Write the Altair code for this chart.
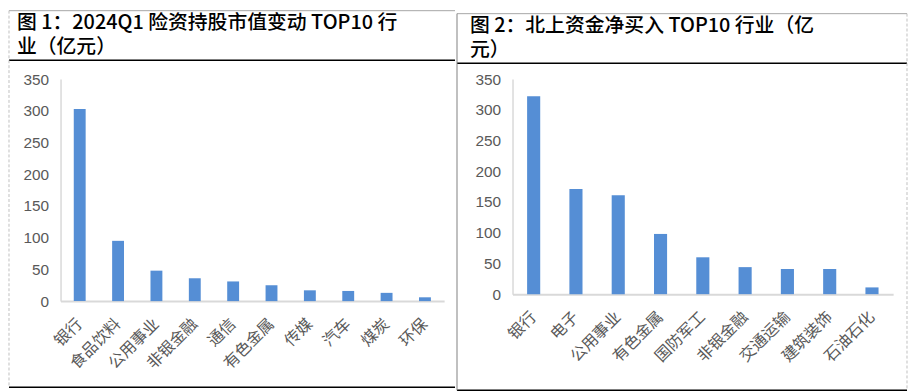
import altair as alt
import pandas as pd

left_cats = ["银行", "食品饮料", "公用事业", "非银金融", "通信", "有色金属", "传媒", "汽车", "煤炭", "环保"]
left_vals = [303, 95, 48, 36, 31, 25, 17, 16, 13, 6]
right_cats = ["银行", "电子", "公用事业", "有色金属", "国防军工", "非银金融", "交通运输", "建筑装饰", "石油石化"]
right_vals = [322, 171, 161, 98, 60, 44, 41, 41, 11]
y_ticks = [0, 50, 100, 150, 200, 250, 300, 350]
left_title = ["图 1：2024Q1 险资持股市值变动 TOP10 行", "业（亿元）"]
right_title = ["图 2：北上资金净买入 TOP10 行业（亿", "元）"]

BAR = "#558ED5"
AX = "#D9D9D9"
LAB = "#595959"
CJK = "Noto Sans CJK SC"
NUM = "Liberation Sans"

one = pd.DataFrame({"k": [0]})


def hrule(x, x2, y, color, width=1.0, dash=None):
    m = alt.Chart(one).mark_rule(color=color, strokeWidth=width, **({"strokeDash": dash} if dash else {}))
    return m.encode(x=alt.value(x), x2=alt.value(x2), y=alt.value(y))


def vrule(x, y, y2, color, width=1.0, dash=None):
    m = alt.Chart(one).mark_rule(color=color, strokeWidth=width, **({"strokeDash": dash} if dash else {}))
    return m.encode(x=alt.value(x), y=alt.value(y), y2=alt.value(y2))


def title_line(text, x, y):
    return alt.Chart(one).mark_text(
        text=text, align="left", baseline="top", font=CJK, fontSize=20,
        fontWeight=500, color="black",
    ).encode(x=alt.value(x), y=alt.value(y))


def panel(cats, vals, title, w, h, top, left_x, right_x, bottom_y, sep_y, title_dx, left_dash):
    df = pd.DataFrame({"cat": cats, "val": vals})
    bars = alt.Chart(df).mark_bar(color=BAR).encode(
        x=alt.X("cat:N", sort=cats, title=None,
                scale=alt.Scale(paddingInner=0.69, paddingOuter=0.345),
                axis=alt.Axis(labelAngle=-45, labelAlign="right", labelBaseline="middle",
                              labelFont=CJK, labelFontSize=16, labelColor=LAB,
                              labelPadding=20, ticks=False, tickSize=0,
                              domainColor=AX, domainWidth=2, labelOverlap=False)),
        y=alt.Y("val:Q", title=None,
                scale=alt.Scale(domain=[0, 350], nice=False),
                axis=alt.Axis(values=y_ticks, grid=False, ticks=False, tickSize=0,
                              labelFont=NUM, labelFontSize=15.5, labelColor=LAB,
                              labelPadding=12, domainColor=AX, domainWidth=1.5)),
    )
    layers = [bars,
              title_line(title[0], title_dx, -top + 2),
              title_line(title[1], title_dx, -top + 27),
              hrule(left_x, right_x, -top, "#A6A6A6", 1),
              hrule(left_x, right_x, sep_y, "black", 1.5),
              hrule(left_x, right_x, bottom_y, "black", 1.5)]
    if left_dash:
        layers.append(vrule(left_x, -top, bottom_y, "#BFBFBF", 1, [3, 2]))
    else:
        layers.append(vrule(left_x, -top, bottom_y, "#808080", 1))
        layers.append(vrule(right_x, -top, bottom_y, "#BFBFBF", 1, [3, 2]))
    return alt.layer(*layers).properties(width=w, height=h)


left = panel(left_cats, left_vals, left_title, 387, 224, 69, -52, 398, 311, -19, -44, True)
right = panel(right_cats, right_vals, right_title, 384, 217, 66, -56, 398, 314, -16, -43, False)

chart = alt.hconcat(left, right, spacing=0).properties(padding=0).configure_view(stroke=None)

chart.save("out.html", embed_options={"renderer": "svg", "actions": False})
